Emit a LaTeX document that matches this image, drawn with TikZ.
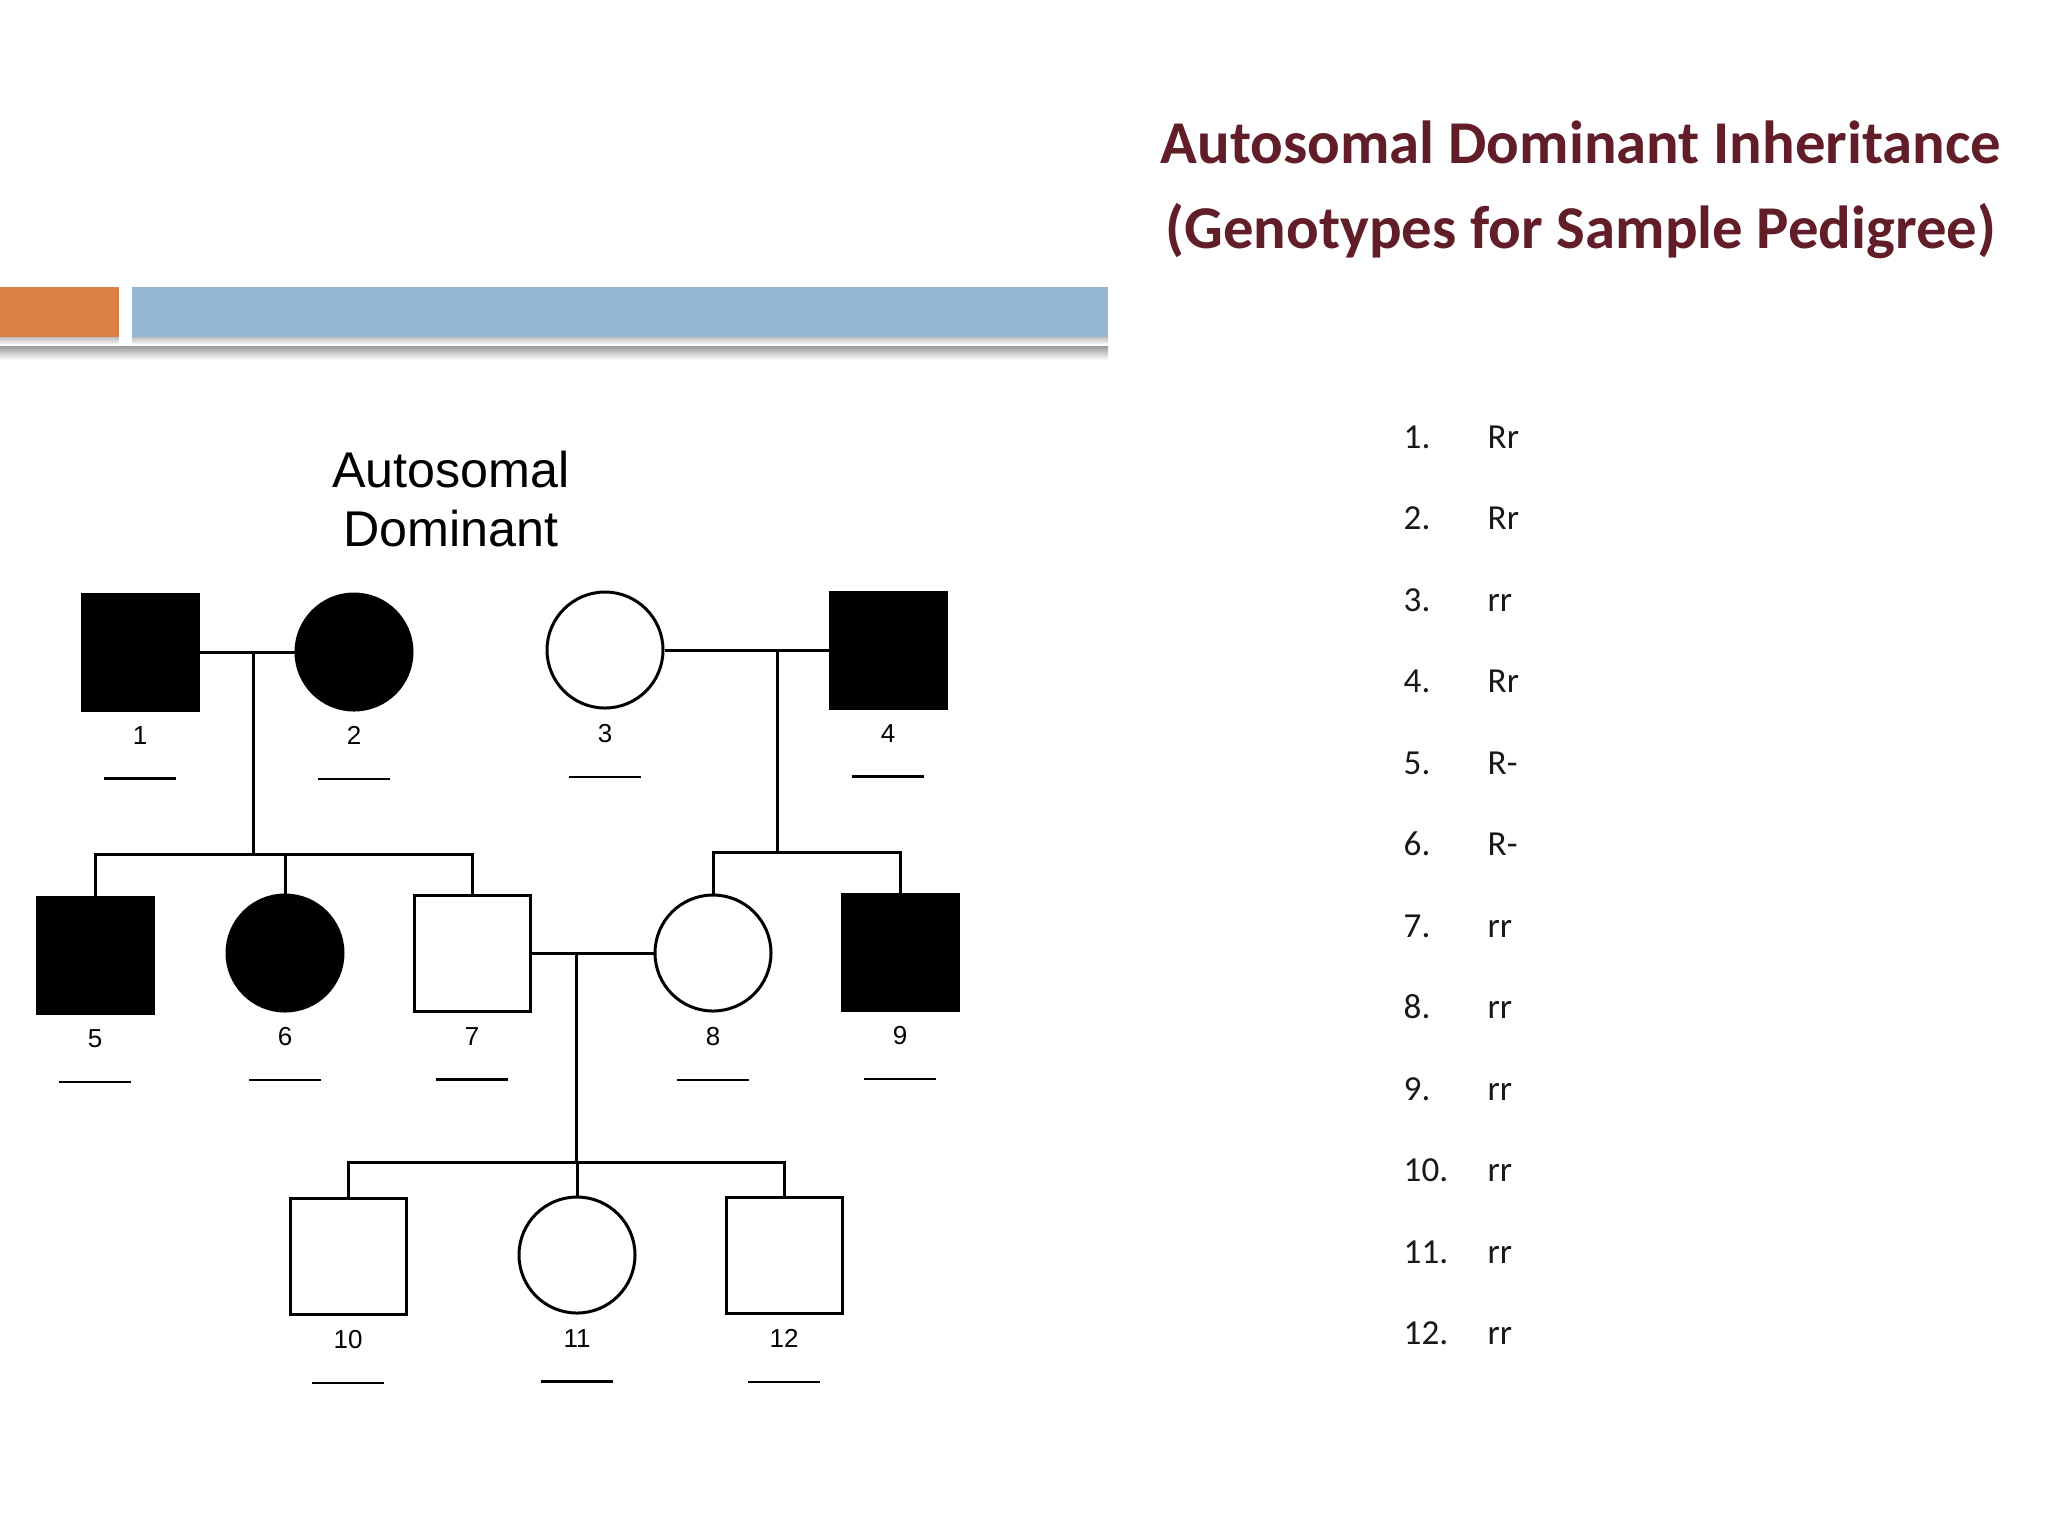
\documentclass[tikz,border=0pt]{standalone}
\usepackage{fontspec}
\setmainfont{Liberation Sans}
\newfontfamily\calibri{Carlito}
\usepackage{tikz}
\usetikzlibrary{positioning,calc}
\definecolor{cOrange}{RGB}{221,128,71}
\definecolor{cBlue}{RGB}{148,182,210}
\definecolor{cTitle}{RGB}{98,30,40}
\definecolor{cText}{RGB}{25,25,25}
\tikzset{
  male/.style={draw=black, fill=white, line width=0.3mm, minimum size=11.6mm, inner sep=0pt},
  female/.style={male, circle},
  aff/.style={fill=black},
  ped/.style={line width=0.3mm},
  num/.style={font=\fontsize{7.4}{9}\selectfont, inner sep=0pt},
  blank/.style={minimum width=7mm, minimum height=0pt, inner sep=0pt},
  gline/.style={line width=0.22mm},
  ptl/.style={font=\fontsize{14.3}{17}\selectfont, anchor=base, inner sep=0pt},
  ttl/.style={font=\calibri\bfseries\fontsize{17.3}{21}\selectfont, text=cTitle, anchor=base, inner sep=0pt},
  item/.style={font=\calibri\fontsize{10}{12}\selectfont, text=cText, anchor=base west, inner sep=0pt},
}

\begin{document}
\begin{tikzpicture}[x=0.1mm, y=-0.1mm]
  \fill[white] (0,0) rectangle (2048,1536);
  \useasboundingbox (0,0) rectangle (2048,1536);

  \fill[cOrange] (0,287) rectangle (119,337);
  \fill[cBlue] (132,287) rectangle (1108,337);
  \shade[top color=gray!50, bottom color=white] (0,337) rectangle (119,345);
  \shade[top color=gray!50, bottom color=white] (132,337) rectangle (1108,345);
  \shade[top color=gray!80, bottom color=white] (0,346) rectangle (1108,360);

  \node[ttl] (t1) at (1581,163) {Autosomal Dominant Inheritance};
  \node[ttl] (t2) at (1581,248) {(Genotypes for Sample Pedigree)};

  \node[ptl] (pt1) at (451,487) {Autosomal};
  \node[ptl] (pt2) at (451,546) {Dominant};

  \node[male, aff] (p1) at (140,652) {};
  \node[female, aff] (p2) at (354,652) {};
  \node[female] (p3) at (605,650) {};
  \node[male, aff] (p4) at (888,650) {};
  \node[male, aff] (p5) at (95,955) {};
  \node[female, aff] (p6) at (285,953) {};
  \node[male] (p7) at (472,953) {};
  \node[female] (p8) at (713,953) {};
  \node[male, aff] (p9) at (900,952) {};
  \node[male] (p10) at (348,1256) {};
  \node[female] (p11) at (577,1255) {};
  \node[male] (p12) at (784,1255) {};

  \coordinate (m12) at (253,652);
  \coordinate (s12) at (253,854);
  \coordinate (m34) at (777,650);
  \coordinate (s34) at (777,852);
  \coordinate (m78) at (576,953);
  \coordinate (s78) at (576,1162);

  \draw[ped] (p1.east) -- (p2.west);
  \draw[ped] (m12) -- (s12);
  \draw[ped] (p5.north) |- (s12) -| (p7.north);
  \draw[ped] (p6.north) -- (p6.north |- s12);

  \draw[ped] (p3.east) -- (p4.west);
  \draw[ped] (m34) -- (s34);
  \draw[ped] (p8.north) |- (s34) -| (p9.north);

  \draw[ped] (p7.east) -- (p8.west);
  \draw[ped] (m78) -- (s78);
  \draw[ped] (p10.north) |- (s78) -| (p12.north);
  \draw[ped] (p11.north) -- (p11.north |- s78);

  \foreach \i in {1,...,12} {
    \node[num, below=1.4mm of p\i] (n\i) {\i};
    \node[blank, below=3.3mm of n\i] (b\i) {};
    \draw[gline] (b\i.west) -- (b\i.east);
  }

  \foreach \i/\g in {1/Rr,2/Rr,3/rr,4/Rr,5/R-,6/R-,7/rr,8/rr,9/rr,10/rr,11/rr,12/rr} {
    \node[item] (k\i) at (1403,{448+81.5*(\i-1)}) {\i.};
    \node[item] (g\i) at (1487,{448+81.5*(\i-1)}) {\g};
  }
\end{tikzpicture}
\end{document}
